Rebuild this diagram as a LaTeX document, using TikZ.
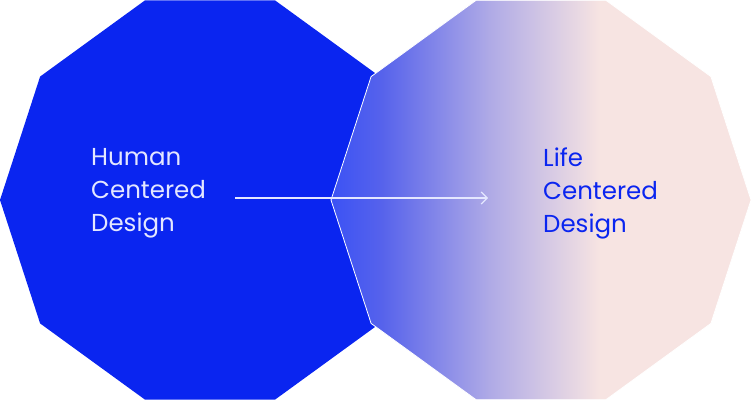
\documentclass[tikz,border=0pt]{standalone}
\usepackage{fontspec}
\setmainfont{Poppins}
\usetikzlibrary{arrows.meta}
\definecolor{dblue}{HTML}{0A25F0}
\definecolor{dpink}{HTML}{F7E4E2}
\definecolor{ltxt}{HTML}{E4E7FF}
\pgfdeclarehorizontalshading{lcd}{100bp}{color(0bp)=(dblue!80!white); color(25bp)=(dblue!80!white); color(26bp)=(dblue!78!white); color(31bp)=(dblue!68!dpink); color(44bp)=(dblue!30!dpink); color(57bp)=(dpink); color(100bp)=(dpink)}
\begin{document}
\begin{tikzpicture}[x=1pt,y=-1pt,
  lbl/.style={align=left,anchor=west,font=\fontsize{24.5}{33}\selectfont,inner sep=0pt}]
\useasboundingbox (0,0) rectangle (751,401);
\begin{scope}[shift={(210,200)}]
\fill[dblue] (0:210) -- (36:210) -- (72:210) -- (108:210) -- (144:210) -- (180:210) -- (216:210) -- (252:210) -- (288:210) -- (324:210) -- cycle;
\end{scope}
\begin{scope}[shift={(541,200)}]
\shade[shading=lcd,draw=white,line width=0.8pt] (0:210) -- (36:210) -- (72:210) -- (108:210) -- (144:210) -- (180:210) -- (216:210) -- (252:210) -- (288:210) -- (324:210) -- cycle;
\end{scope}
\node[lbl,text=ltxt] (h) at (91,193) {Human\\Centered\\Design};
\node[lbl,text=dblue] (l) at (543,193) {Life\\Centered\\Design};
\coordinate (a1) at (235,198);
\coordinate (a2) at (488,198);
\draw[ltxt,line width=1.2pt,-{Straight Barb[length=6pt,width=12pt]}] (a1) -- (a2);
\end{tikzpicture}
\end{document}
